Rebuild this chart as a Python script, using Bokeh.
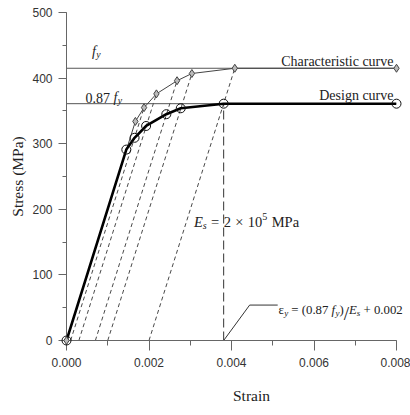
from bokeh.plotting import figure
from bokeh.models import Range1d, SingleIntervalTicker, PrintfTickFormatter
from bokeh.core.properties import value
from bokeh.embed import file_html
from bokeh.resources import INLINE

# Steel stress-strain data (strain in mm/mm, stress in MPa)
fy = 415          # characteristic yield strength
fyd = 361         # design yield strength, 0.87 fy
eps_yd = 0.00381  # design yield strain

char_strain = [0.0, 0.00167, 0.00188, 0.00218, 0.00268, 0.00304, 0.00408, 0.008]
char_stress = [0, 334, 355, 376, 396, 407, 415, 415]

design_strain = [0.0, 0.00145, 0.00165, 0.00193, 0.00242, 0.00277, 0.00381, 0.008]
design_stress = [0, 291, 309, 327, 345, 354, 361, 361]

# plastic (residual) strains of the unloading lines, slope Es
offsets = [0.0001, 0.0003, 0.0007, 0.001, 0.002]

x_ticks = [0.0, 0.002, 0.004, 0.006, 0.008]
y_ticks = [0, 100, 200, 300, 400, 500]

SERIF = "Liberation Serif"
SANS = "Liberation Sans"
INK = "#222222"
AXIS = "#666666"

p = figure(width=410, height=415, x_range=Range1d(x_ticks[0], x_ticks[-1]),
           y_range=Range1d(y_ticks[0], y_ticks[-1]),
           output_backend="svg", toolbar_location=None,
           min_border_left=66, min_border_right=14, min_border_top=12, min_border_bottom=75)
p.xgrid.visible = False
p.ygrid.visible = False
p.outline_line_color = None
p.background_fill_color = "white"
p.border_fill_color = "white"

xax = p.xaxis[0]
yax = p.yaxis[0]
xax.ticker = SingleIntervalTicker(interval=0.002, num_minor_ticks=2)
yax.ticker = SingleIntervalTicker(interval=100, num_minor_ticks=2)
xax.formatter = PrintfTickFormatter(format="%.3f")

for ax, major, minor, stand in ((xax, 10, 5, 7), (yax, 8, 4, 6)):
    ax.axis_line_color = AXIS
    ax.major_tick_line_color = AXIS
    ax.minor_tick_line_color = AXIS
    ax.major_tick_in = 0
    ax.major_tick_out = major
    ax.minor_tick_in = 0
    ax.minor_tick_out = minor
    ax.major_label_standoff = stand
    ax.major_label_text_font = SANS
    ax.major_label_text_font_size = "12px"
    ax.major_label_text_color = "#333333"

yax.axis_label = "Stress (MPa)"
yax.axis_label_text_font = SERIF
yax.axis_label_text_font_style = "normal"
yax.axis_label_text_font_size = "15.5px"
yax.axis_label_text_color = INK
yax.axis_label_standoff = 3


def put(x, y, txt, size, style="normal", dx=0.0, dy=0.0, align="left"):
    """Single text item drawn above the frame clip."""
    p.text(x=[x], y=[y], text=[txt], x_offset=dx, y_offset=dy,
           text_font=value(SERIF), text_font_style=style, text_font_size=f"{size:.1f}px",
           text_color=INK, text_align=align, text_baseline="alphabetic", level="overlay")


# x axis title in the serif face
put(0.004485, -84, "Strain", 15.5, align="center")

# unloading lines with slope Es from each residual strain to the characteristic curve
xs = [[o, s] for o, s in zip(offsets, char_strain[2:7])]
ys = [[0, f] for f in char_stress[2:7]]
p.multi_line(xs, ys, line_color="#333333", line_width=0.9, line_dash="4 3")

# design yield strain marker
p.line([eps_yd, eps_yd], [0, fyd], line_color="#333333", line_width=1, line_dash="9 4")

# reference levels fy and 0.87 fy
p.line([x_ticks[0], x_ticks[-1]], [fy, fy], line_color="#555555", line_width=1)
p.line([x_ticks[0], x_ticks[-1]], [fyd, fyd], line_color="#555555", line_width=1)

# characteristic and design curves
p.line(char_strain, char_stress, line_color="#444444", line_width=1)
p.line(design_strain, design_stress, line_color="black", line_width=2.6)
p.scatter(char_strain, char_stress, marker="diamond", size=8, level="overlay",
          fill_color="#bbbbbb", line_color="#444444", line_width=1)
p.scatter(design_strain, design_stress, marker="circle", size=9, level="overlay",
          fill_color=None, line_color="#111111", line_width=1)

# leader for the yield strain expression
p.line([eps_yd, 0.00444, 0.00512], [0, 54, 54], line_color="#333333", line_width=1)

# approximate advance widths (em) for the serif face
W_NORMAL = {d: 0.5 for d in "0123456789"}
W_NORMAL.update({".": 0.25, "=": 0.564, "+": 0.564, "\u00d7": 0.564,
                 "(": 0.333, ")": 0.333, "M": 0.889, "P": 0.556, "a": 0.444,
                 "/": 0.278, "\u03b5": 0.44})
W_ITALIC = {"E": 0.611, "f": 0.3, "y": 0.444, "s": 0.389}


def rich(x, y, pieces, size=14, y_off=0, space=0.25):
    """Lay out a run of differently styled pieces; spaces become explicit gaps."""
    adv = 0.0
    for txt, style, rel, rise in pieces:
        fs = size * rel
        table = W_ITALIC if style == "italic" else W_NORMAL
        for word_i, word in enumerate(txt.split(" ")):
            if word_i > 0:
                adv += space * fs
            if not word:
                continue
            put(x, y, word, fs, style=style, dx=adv, dy=-(y_off + rise))
            adv += sum(table.get(c, 0.5) for c in word) * fs


rich(0.00062, fy, [("f", "italic", 1, 0), ("y", "italic", 0.7, -3)], y_off=17)
rich(0.00046, fyd, [("0.87 ", "normal", 1, 0), ("f", "italic", 1, 0),
                    ("y", "italic", 0.7, -3)], y_off=6)
rich(0.00309, 180, [("E", "italic", 1, 0), ("s", "italic", 0.7, -3),
                    (" = 2 \u00d7 10", "normal", 1, 0), ("5", "normal", 0.7, 6),
                    (" MPa", "normal", 1, 0)], size=14.5, space=0.3)
rich(0.00514, 46, [("\u03b5", "normal", 1, 0), ("y", "italic", 0.7, -3),
                   (" = (0.87 ", "normal", 1, 0), ("f", "italic", 1, 0),
                   ("y", "italic", 0.7, -3), (")", "normal", 1, 0),
                   ("/", "normal", 1.5, -3), ("E", "italic", 1, 0),
                   ("s", "italic", 0.7, -3), (" + 0.002", "normal", 1, 0)], size=12.8)

put(x_ticks[-1], fy, "Characteristic curve", 14, dx=-3, dy=-7, align="right")
put(x_ticks[-1], fyd, "Design curve", 14, dx=-3, dy=-8, align="right")

open("out.html", "w").write(file_html(p, INLINE))
